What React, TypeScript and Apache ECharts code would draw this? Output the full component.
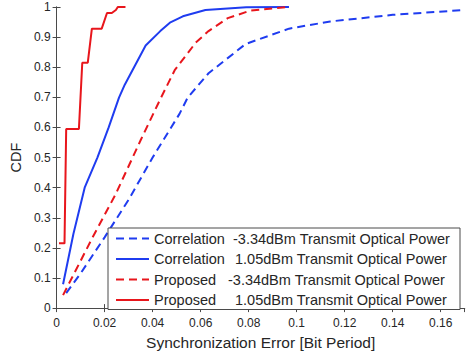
import React, { useEffect, useRef } from "react";
import * as echarts from "echarts";

// Correlation -3.34dBm (blue dashed)
const corrLowX = [0.004, 0.01, 0.02, 0.03, 0.04, 0.0512, 0.0546, 0.0633, 0.0787, 0.0968, 0.114, 0.14, 0.17];
const corrLowY = [0.05, 0.115, 0.235, 0.36, 0.5, 0.645, 0.699, 0.78, 0.877, 0.928, 0.952, 0.974, 0.99];
// Correlation 1.05dBm (blue solid)
const corrHighX = [0.0027, 0.007, 0.0117, 0.017, 0.0217, 0.026, 0.0284, 0.0371, 0.0432, 0.0472, 0.0526, 0.062, 0.079, 0.0968];
const corrHighY = [0.079, 0.246, 0.4, 0.5, 0.6, 0.699, 0.742, 0.872, 0.92, 0.948, 0.969, 0.99, 0.999, 1.0];
// Proposed -3.34dBm (red dashed)
const propLowX = [0.0027, 0.015, 0.0244, 0.0351, 0.0435, 0.0492, 0.058, 0.0633, 0.0713, 0.0807, 0.0955];
const propLowY = [0.043, 0.235, 0.375, 0.559, 0.699, 0.79, 0.882, 0.92, 0.963, 0.988, 0.999];
// Proposed 1.05dBm (red solid, staircase)
const propHighX = [0.001, 0.0033, 0.0040, 0.0093, 0.0107, 0.013, 0.0147, 0.0188, 0.021, 0.023, 0.0247, 0.0255, 0.0287];
const propHighY = [0.215, 0.215, 0.595, 0.595, 0.815, 0.815, 0.928, 0.928, 0.98, 0.98, 0.99, 1.0, 1.0];

const seriesNames = [
  "Correlation -3.34dBm Transmit Optical Power",
  "Correlation 1.05dBm Transmit Optical Power",
  "Proposed -3.34dBm Transmit Optical Power",
  "Proposed 1.05dBm Transmit Optical Power",
];
const xTickLabels = ["0", "0.02", "0.04", "0.06", "0.08", "0.1", "0.12", "0.14", "0.16"];
const yTickLabels = ["0", "0.1", "0.2", "0.3", "0.4", "0.5", "0.6", "0.7", "0.8", "0.9", "1"];

const zip = (xs: number[], ys: number[]) => xs.map((x, i) => [x, ys[i]]);

const BLUE = "#1f3cf0";
const RED = "#e8161c";
const AXIS = "#4a4a4a";
const TEXT = "#262626";
const FONT = "'Liberation Sans', Arial, sans-serif";

export default function App() {
  const ref = useRef<HTMLDivElement>(null);
  useEffect(() => {
    if (!ref.current) return;
    const chart = echarts.init(ref.current, undefined, { renderer: "svg" });
    const line = (name: string, data: number[][], color: string, dashed: boolean) => ({
      name,
      type: "line",
      data,
      symbol: "none",
      showSymbol: false,
      clip: true,
      lineStyle: { color, width: 2, type: dashed ? [8, 5] : "solid" },
      itemStyle: { color },
    });
    const xLabelFmt = (v: number) => {
      const idx = Math.round(v / 0.02);
      return Math.abs(idx * 0.02 - v) < 1e-9 && idx < xTickLabels.length ? xTickLabels[idx] : "";
    };
    const yLabelFmt = (v: number) => yTickLabels[Math.round(v * 10)] ?? "";
    const legendParts: Record<string, [string, string, string]> = {
      [seriesNames[0]]: ["a1", "Correlation", "-3.34dBm Transmit Optical Power"],
      [seriesNames[1]]: ["a2", "Correlation", "1.05dBm Transmit Optical Power"],
      [seriesNames[2]]: ["a3", "Proposed", "-3.34dBm Transmit Optical Power"],
      [seriesNames[3]]: ["a2", "Proposed", "1.05dBm Transmit Optical Power"],
    };
    const common = { fontFamily: FONT, fontSize: 14.5, color: TEXT, lineHeight: 14 };
    chart.setOption({
      animation: false,
      textStyle: { fontFamily: FONT },
      grid: { left: 42.7, right: 9.3, top: 7, bottom: 39, containLabel: false },
      xAxis: [
        {
          type: "value",
          min: 0,
          max: 0.17,
          interval: 0.02,
          position: "bottom",
          name: "Synchronization Error [Bit Period]",
          nameLocation: "middle",
          nameGap: 18,
          nameTextStyle: { fontFamily: FONT, fontSize: 15.5, color: TEXT },
          axisLine: { lineStyle: { color: AXIS, width: 1 } },
          axisTick: { inside: true, length: 4, lineStyle: { color: AXIS } },
          axisLabel: { formatter: xLabelFmt, fontFamily: FONT, fontSize: 12, color: TEXT, margin: 9, showMaxLabel: false },
          splitLine: { show: false },
        },
        {
          type: "value",
          min: 0,
          max: 0.17,
          interval: 0.02,
          position: "top",
          axisLine: { lineStyle: { color: AXIS, width: 1 } },
          axisTick: { inside: true, length: 4, lineStyle: { color: AXIS } },
          axisLabel: { show: false },
          splitLine: { show: false },
        },
      ],
      yAxis: [
        {
          type: "value",
          min: 0,
          max: 1,
          interval: 0.1,
          position: "left",
          name: "CDF",
          nameLocation: "middle",
          nameGap: 28,
          nameTextStyle: { fontFamily: FONT, fontSize: 14.5, color: TEXT },
          axisLine: { show: true, lineStyle: { color: AXIS, width: 1 } },
          axisTick: { show: true, inside: true, length: 4, lineStyle: { color: AXIS } },
          axisLabel: { formatter: yLabelFmt, fontFamily: FONT, fontSize: 12, color: TEXT, margin: 6 },
          splitLine: { show: false },
        },
        {
          type: "value",
          min: 0,
          max: 1,
          interval: 0.1,
          position: "right",
          axisLine: { show: true, lineStyle: { color: AXIS, width: 1 } },
          axisTick: { show: true, inside: true, length: 4, lineStyle: { color: AXIS } },
          axisLabel: { show: false },
          splitLine: { show: false },
        },
      ],
      legend: {
        orient: "vertical",
        left: 108,
        top: 228,
        padding: [3, 6, 2, 7],
        itemGap: 5.5,
        itemWidth: 33,
        itemHeight: 14,
        borderColor: AXIS,
        borderWidth: 1,
        borderRadius: 0,
        backgroundColor: "#ffffff",
        itemStyle: { opacity: 0 },
        data: seriesNames,
        formatter: (name: string) => {
          const p = legendParts[name];
          return `{${p[0]}|${p[1]}}{b${p[0]}|${p[2]}}`;
        },
        textStyle: {
          ...common,
          rich: {
            a1: { ...common, width: 79 },
            a2: { ...common, width: 81 },
            a3: { ...common, width: 74 },
            ba1: { ...common, width: 221 },
            ba2: { ...common, width: 219 },
            ba3: { ...common, width: 226 },
          },
        },
      },
      series: [
        line(seriesNames[0], zip(corrLowX, corrLowY), BLUE, true),
        line(seriesNames[1], zip(corrHighX, corrHighY), BLUE, false),
        line(seriesNames[2], zip(propLowX, propLowY), RED, true),
        line(seriesNames[3], zip(propHighX, propHighY), RED, false),
      ],
    });
    return () => chart.dispose();
  }, []);
  return <div ref={ref} style={{ width: 474, height: 355, position: "absolute", left: 0, top: 0 }} />;
}
